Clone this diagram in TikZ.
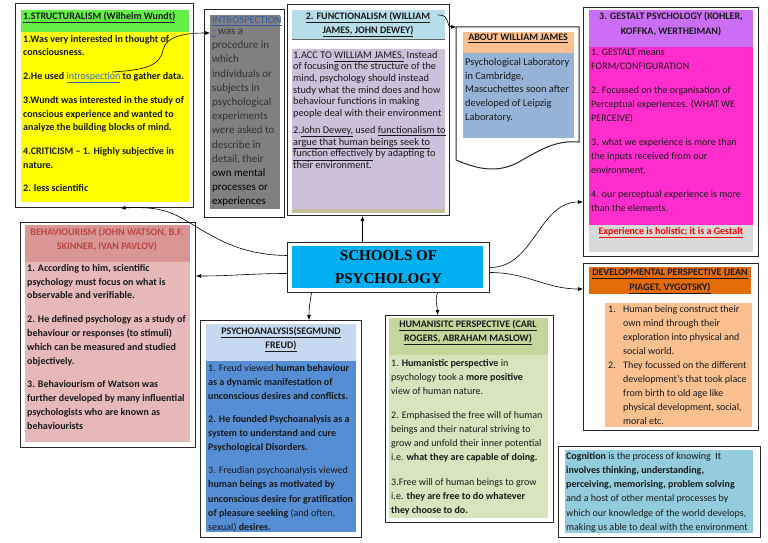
\documentclass[tikz,border=0pt]{standalone}
\usepackage{fontspec}
\setmainfont{Carlito}
\newfontfamily\titlefont{Liberation Serif}
\usetikzlibrary{arrows.meta}
\definecolor{hgreen}{RGB}{100,240,70}
\definecolor{hyellow}{RGB}{255,255,0}
\definecolor{igray}{RGB}{128,128,128}
\definecolor{intb}{RGB}{50,90,170}
\definecolor{lnk}{RGB}{46,110,181}
\definecolor{fhead}{RGB}{183,222,232}
\definecolor{fbody}{RGB}{204,192,218}
\definecolor{ftan}{RGB}{196,189,151}
\definecolor{ahead}{RGB}{250,192,144}
\definecolor{abody}{RGB}{149,179,215}
\definecolor{ghead}{RGB}{204,110,245}
\definecolor{gbody}{RGB}{255,45,205}
\definecolor{gfoot}{RGB}{217,217,217}
\definecolor{bhead}{RGB}{217,150,148}
\definecolor{bbody}{RGB}{230,185,184}
\definecolor{btxt}{RGB}{185,70,67}
\definecolor{ccyan}{RGB}{0,176,240}
\definecolor{phead}{RGB}{198,217,241}
\definecolor{pbody}{RGB}{85,142,213}
\definecolor{hhead}{RGB}{195,214,155}
\definecolor{hbody}{RGB}{215,228,189}
\definecolor{dhead}{RGB}{227,108,9}
\definecolor{dbody}{RGB}{250,192,144}
\definecolor{cogc}{RGB}{147,205,221}
\begin{document}
\begin{tikzpicture}[x=1pt,y=-1pt,
fr/.style={draw=black!85,line width=1pt},
box/.style={fr,anchor=north west,inner sep=0pt},
txt/.style={anchor=north west,align=left,inner sep=0pt,text=black!90,font=\fontsize{10}{13.8}\selectfont},
hd/.style={anchor=north,align=center,inner sep=0pt,text=black!90,font=\fontsize{10}{14}\selectfont\bfseries},
link/.style={-{Latex[length=5pt,width=4pt]},line width=0.6pt}]
\useasboundingbox(0,0)rectangle(768,543);
\fill[white](0,0)rectangle(768,543);
\fill[hgreen](21,10)rectangle(189,32);
\fill[hyellow](21,32)rectangle(189,202);
\fill[igray](210,15)rectangle(280,209);
\fill[fhead](292,10)rectangle(445,39);
\draw[black!60,line width=0.6pt](292,39.5)--(445,39.5);
\fill[fbody](292,49)rectangle(445,209);
\fill[ftan](292,209)rectangle(445,213);
\fill[ahead](463,32)rectangle(574,53);
\fill[abody](463,53)rectangle(574,138);
\fill[ghead](589,10)rectangle(753,47);
\fill[gbody](589,47)rectangle(753,225);
\fill[gfoot](589,225)rectangle(753,252);
\fill[bhead](25,225)rectangle(190,262);
\fill[bbody](25,262)rectangle(190,442);
\fill[ccyan](292,246)rectangle(483,288);
\fill[phead](206,324)rectangle(356,361);
\fill[pbody](206,361)rectangle(356,532);
\fill[hhead](389,318)rectangle(548,355);
\fill[hbody](389,355)rectangle(548,518);
\fill[dhead](589,267)rectangle(751,294);
\fill[dbody](605,303)rectangle(752,427);
\fill[cogc](565,450)rectangle(753,533);
\node[box,minimum width=178pt,minimum height=204pt](st)at(15,3){};
\node[box,minimum width=80pt,minimum height=208pt](intr)at(204,9){};
\node[box,minimum width=162pt,minimum height=211pt](fu)at(287,4){};
\coordinate(ab)at(456,27);
\draw[fr](456,160)--(ab)--(579,27)--(579,142)..controls(555,140)and(540,150)..(517,163)..controls(495,174)and(475,168)..cycle;
\node[box,minimum width=175pt,minimum height=249pt](ge)at(583,7){};
\node[box,minimum width=175pt,minimum height=225pt](be)at(20,222){};
\node[box,minimum width=202pt,minimum height=50pt,align=center,font=\titlefont\bfseries\fontsize{15}{23}\selectfont](cen)at(287,242){SCHOOLS OF\\PSYCHOLOGY};
\node[box,minimum width=161pt,minimum height=217pt](ps)at(200,320){};
\node[box,minimum width=168pt,minimum height=207pt](hu)at(385,315){};
\node[box,minimum width=175pt,minimum height=167pt](de)at(583,263){};
\node[box,minimum width=202pt,minimum height=91pt](co)at(558,446){};
\node[txt,anchor=base west,font=\fontsize{10}{13.8}\selectfont\bfseries](sth)at(23,19.5){\underline{1.STRUCTURALISM (Wilhelm Wundt)}};
\node[txt,font=\fontsize{10}{13.7}\selectfont\bfseries](stb)at(23,35){1.Was very interested in thought of\\consciousness.\\[10pt]2.He used {\mdseries\color{lnk}\underline{introspection}} to gather data.\\[10pt]3.Wundt was interested in the study of\\conscious experience and wanted to\\analyze the building blocks of mind.\\[10pt]4.CRITICISM -- 1. Highly subjective in\\nature.\\[10pt]2. less scientific};
\coordinate(iw)at(112,72);
\node[txt,anchor=base west,text=intb,font=\fontsize{10.5}{14}\selectfont](inh)at(212,24){\underline{INTROSPECTION}};
\node[txt,font=\fontsize{11}{14.2}\selectfont,text=black!80](inb)at(212,29){{\color{intb}\underline{-}} was a\\procedure in\\which\\individuals or\\subjects in\\psychological\\experiments\\were asked to\\describe in\\detail, their\\{\color{black}own mental}\\{\color{black}processes or}\\{\color{black}experiences}};
\node[hd](fuh)at(368,12){\underline{2. FUNCTIONALISM (WILLIAM}\\\underline{JAMES, JOHN DEWEY)}};
\node[txt,font=\fontsize{10.3}{11.6}\selectfont](fub)at(293,51){1.ACC TO \underline{WILLIAM JAMES,} Instead\\of focusing on the structure of the\\mind, psychology should instead\\study what the mind does and how\\behaviour functions in making\\people deal with their environment\\[5.5pt]2.\underline{John Dewey,} used \underline{functionalism to}\\\underline{argue that human beings seek to}\\\underline{function effectively} by adapting to\\their environment.};
\node[txt,anchor=base,font=\fontsize{10}{13.8}\selectfont\bfseries](abh)at(518,41){\underline{ABOUT WILLIAM JAMES}};
\node[txt,font=\fontsize{10.4}{13.75}\selectfont](abb)at(465,58){Psychological Laboratory\\in Cambridge,\\Mascuchettes soon after\\developed of Leipzig\\Laboratory.};
\node[hd,font=\fontsize{10}{15}\selectfont\bfseries](geh)at(671,12){3. GESTALT PSYCHOLOGY (KOHLER,\\KOFFKA, WERTHEIMAN)};
\node[txt,font=\fontsize{10}{14.3}\selectfont](geb)at(591,49){1. GESTALT means\\FORM/CONFIGURATION\\[9pt]2. Focussed on the organisation of\\Perceptual experiences. (WHAT WE\\PERCEIVE)\\[9pt]3. what we experience is more than\\the inputs received from our\\environment.\\[9pt]4. our perceptual experience is more\\than the elements.};
\node[txt,anchor=base,font=\fontsize{10}{12}\selectfont\bfseries,text=red](gef)at(671,234){\underline{Experience is holistic; it is a Gestalt}};
\node[hd,text=btxt](beh)at(107,228){BEHAVIOURISM (JOHN WATSON, B.F.\\SKINNER, IVAN PAVLOV)};
\node[txt,font=\fontsize{10}{13.8}\selectfont\bfseries](beb)at(27,264){1. According to him, scientific\\psychology must focus on what is\\observable and verifiable.\\[10pt]2. He defined psychology as a study of\\behaviour or responses (to stimuli)\\which can be measured and studied\\objectively.\\[10pt]3. Behaviourism of Watson was\\further developed by many influential\\psychologists who are known as\\behaviourists};
\node[hd](psh)at(281,327){\underline{PSYCHOANALYSIS(SEGMUND}\\\underline{FREUD)}};
\node[txt,font=\fontsize{10}{14.1}\selectfont](psb)at(208,364){1. Freud viewed \textbf{human behaviour}\\\textbf{as a dynamic manifestation of}\\\textbf{unconscious desires and conflicts.}\\[9pt]\textbf{2. He founded Psychoanalysis as a}\\\textbf{system to understand and cure}\\\textbf{Psychological Disorders.}\\[9pt]3. Freudian psychoanalysis viewed\\\textbf{human beings as motivated by}\\\textbf{unconscious desire for gratification}\\\textbf{of pleasure seeking} (and often,\\sexual) \textbf{desires.}};
\node[hd](huh)at(468,320){\underline{HUMANISITC PERSPECTIVE (CARL}\\\underline{ROGERS, ABRAHAM MASLOW)}};
\node[txt,font=\fontsize{10}{14}\selectfont](hub)at(391,359){1. \textbf{Humanistic perspective} in\\psychology took a \textbf{more positive}\\view of human nature.\\[10.5pt]2. Emphasised the free will of human\\beings and their natural striving to\\grow and unfold their inner potential\\i.e. \textbf{what they are capable of doing.}\\[10.5pt]3.Free will of human beings to grow\\i.e. \textbf{they are free to do whatever}\\\textbf{they choose to do.}};
\node[hd,font=\fontsize{10}{15}\selectfont\bfseries](deh)at(670,268){\underline{DEVELOPMENTAL PERSPECTIVE (JEAN}\\\underline{PIAGET, VYGOTSKY)}};
\node[txt,font=\fontsize{10}{14.1}\selectfont](deb)at(608,305){\makebox[15pt][l]{1.}Human being construct their\\\hspace*{15pt}own mind through their\\\hspace*{15pt}exploration into physical and\\\hspace*{15pt}social world.\\\makebox[15pt][l]{2.}They focussed on the different\\\hspace*{15pt}development’s that took place\\\hspace*{15pt}from birth to old age like\\\hspace*{15pt}physical development, social,\\\hspace*{15pt}moral etc.};
\node[txt,font=\fontsize{10}{14.2}\selectfont](cob)at(566,452){\textbf{Cognition} is the process of knowing\ \ It\\\textbf{involves thinking, understanding,}\\\textbf{perceiving, memorising, problem solving}\\and a host of other mental processes by\\which our knowledge of the world develops,\\making us able to deal with the environment};
\draw[link]([yshift=12pt]cen.west)..controls(240,255)and(215,238)..(185,220)..controls(165,208)and(150,207)..([xshift=16pt]st.south);
\draw[link]([yshift=-6pt]cen.west)to[out=180,in=0]([yshift=-54pt]be.north east);
\draw[link](iw)..controls(145,70)and(160,66)..(163,50)..controls(166,36)and(185,33)..([xshift=6pt,yshift=-24pt]intr.north west);
\draw[link]([xshift=-26pt]cen.north)--([xshift=-6pt]fu.south);
\draw[link]([xshift=-12pt,yshift=-11pt]fu.north east)..controls(452,15)and(445,27)..(ab);
\draw[link](cen.east)to[out=0,in=180]([yshift=-70pt]ge.west);
\draw[link]([yshift=-5pt]cen.east)to[out=0,in=180]([yshift=58pt]de.west);
\draw[link]([xshift=-77pt]cen.south)to[out=-100,in=90]([xshift=28pt]ps.north);
\draw[link]([xshift=49pt]cen.south)to[out=-110,in=90]([xshift=-32pt]hu.north);
\end{tikzpicture}
\end{document}
